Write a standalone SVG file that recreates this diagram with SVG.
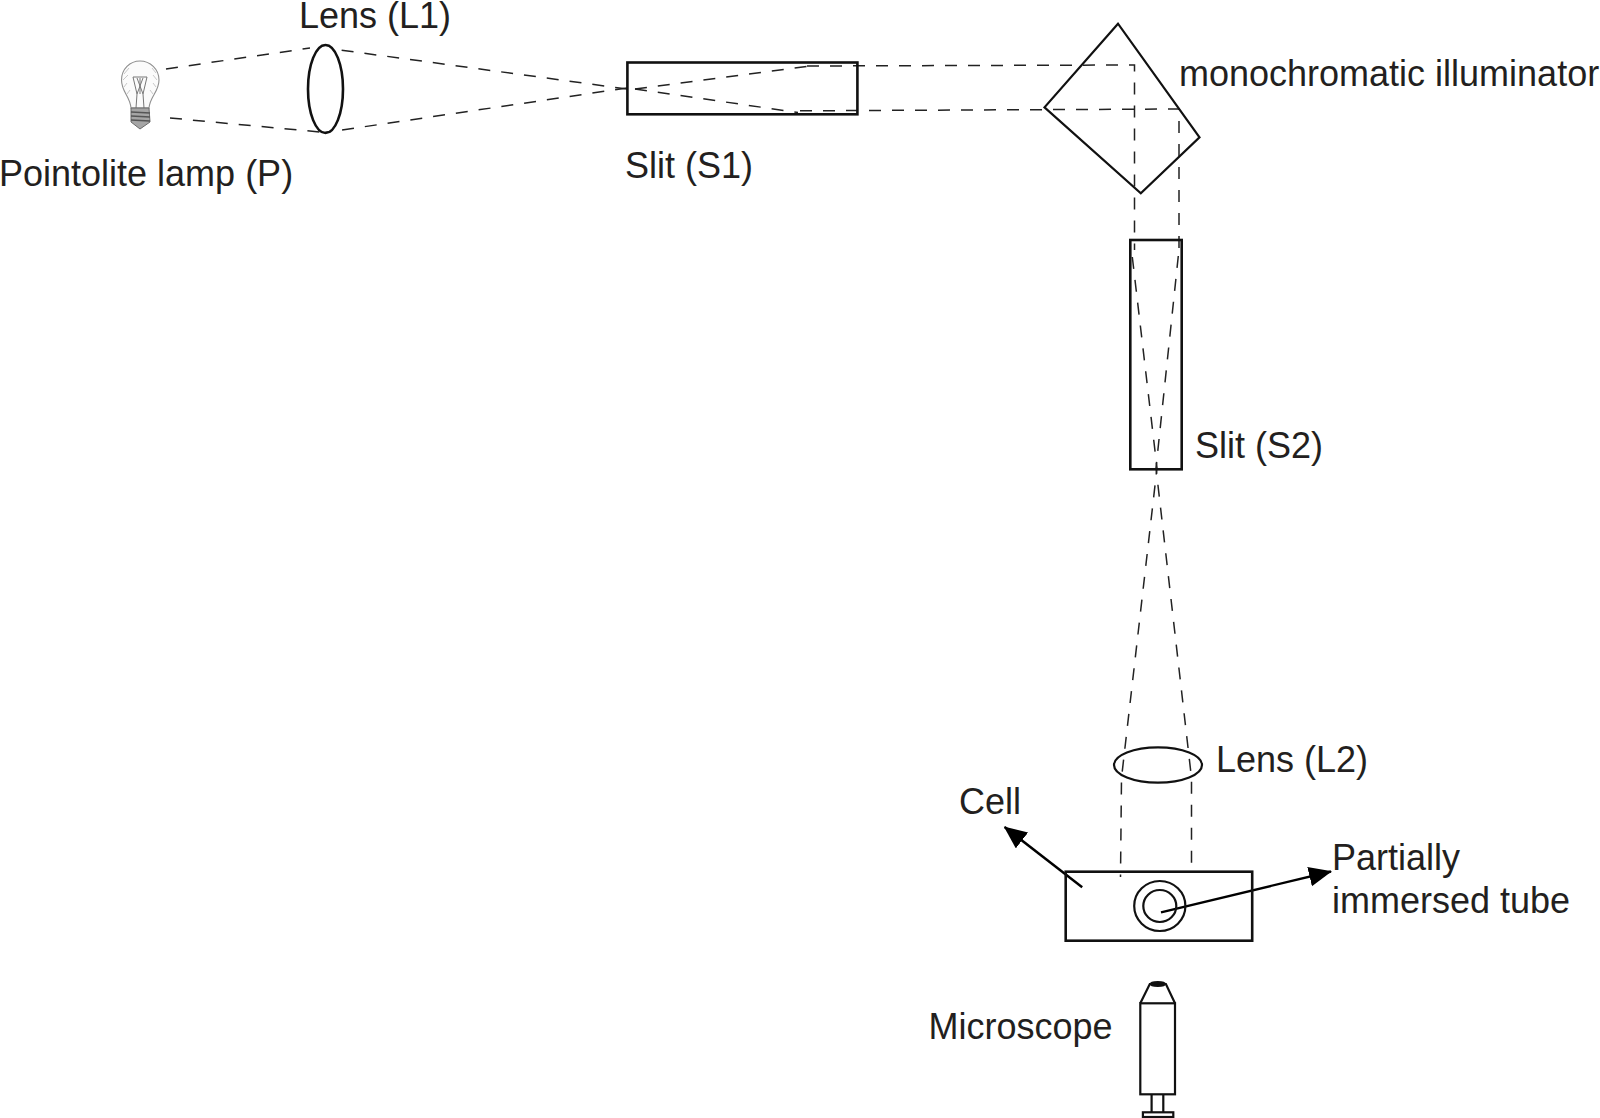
<svg xmlns="http://www.w3.org/2000/svg" width="1600" height="1118" viewBox="0 0 1600 1118">
<style>
text{font-family:"Liberation Sans",Arial,sans-serif;font-size:36px;fill:#231f20}
.s{fill:none;stroke:#111;stroke-width:2.6}
.t{fill:none;stroke:#111;stroke-width:2.2}
.d{fill:none;stroke:#222;stroke-width:1.5;stroke-dasharray:12 11}
.a{fill:none;stroke:#000;stroke-width:2.4;marker-end:url(#ah)}
.b{fill:none;stroke:#777;stroke-width:1}
.h{fill:none;stroke:#bbb;stroke-width:.8}
</style>
<defs><marker id="ah" markerUnits="userSpaceOnUse" markerWidth="24" markerHeight="22" refX="22" refY="10" orient="auto"><path d="M0 0L23 10L0 20Z" fill="#000"/></marker></defs>
<rect width="1600" height="1118" fill="#fff"/>
<g id="connectors">
<path class="d" d="M166 69L310 48M627 89L333 49"/>
<path class="d" d="M170 118L325 132.500M627 88L325 132.500"/>
<path class="d" d="M635 89L817 65"/>
<path class="d" d="M635 89L798 112.500"/>
<path class="d" d="M807 66L1134.500 65L1134.500 250"/>
<path class="d" d="M800 110.800L1179 109L1179 252"/>
<path class="d" d="M1132.300 257L1157 468L1121.500 778L1120.500 877"/>
<path class="d" d="M1178.300 256L1156 468L1191.500 778L1191.500 871"/>
<line class="a" x1="1082.200" y1="887.300" x2="1004.600" y2="827"/>
<line class="a" x1="1161" y1="912.300" x2="1331" y2="871.500"/>
</g>
<g id="lamp">
<path d="M131 108C130 96 121.500 92 121.500 80C121.500 69 130 61 140 61C150 61 159 69 159 80C159 92 150 96 149 108Z" fill="#fbfbfb" stroke="#8f8f8f" stroke-width="1.100"/>
<path class="h" d="M124 74L129 68M123 80L128 75M124 87L127 83M156 73L152 68M157 80L153 75M156 87L153 83M127 94L130 90M153 94L150 90"/>
<path class="b" d="M133 77L147 77L143 94L144 108M133 77L137 94L136 108M137 78L143 94M143 78L137 94M140 78L140 94"/>
<path d="M131 108L149 108L150 122L140 129L131 122Z" fill="#a5a5a5" stroke="#6a6a6a"/>
<path d="M131 112L150 113M131 116L150 117M131 120L150 121" stroke="#555" stroke-width="1.300" fill="none"/>
<text x="-1" y="186">Pointolite lamp (P)</text>
</g>
<g id="lens-l1"><ellipse class="s" cx="325.500" cy="89" rx="17.500" ry="44"/><text x="299" y="28">Lens (L1)</text></g>
<g id="slit-s1"><rect class="s" x="627.400" y="62.500" width="230" height="51.800"/><text x="625" y="178">Slit (S1)</text></g>
<g id="illuminator"><path class="t" d="M1118 23.700L1044.500 107.300L1140.800 193.300L1199.500 137.300Z"/><text x="1179" y="86">monochromatic illuminator</text></g>
<g id="slit-s2"><rect class="s" x="1130.300" y="240" width="51.400" height="229.300"/><text x="1195" y="458">Slit (S2)</text></g>
<g id="lens-l2"><ellipse class="t" cx="1158" cy="765" rx="44" ry="17.700"/><text x="1216" y="772">Lens (L2)</text></g>
<g id="cell"><rect class="s" x="1065.700" y="871.700" width="186.500" height="69"/><text x="959" y="814">Cell</text></g>
<g id="tube"><ellipse class="t" cx="1159.800" cy="906" rx="25.600" ry="25"/><ellipse class="t" cx="1159.800" cy="906" rx="16.500" ry="16"/><text x="1332" y="870">Partially</text><text x="1332" y="913">immersed tube</text></g>
<g id="microscope">
<rect class="t" x="1140.300" y="1003.300" width="34.700" height="91"/>
<path class="t" d="M1140.300 1003.300L1149.800 984L1165.900 984L1175 1003.300"/>
<ellipse class="t" cx="1157.800" cy="984" rx="7" ry="1.800"/>
<path class="t" d="M1151.600 1094.300V1112.300M1163.300 1094.300V1112.300"/>
<rect class="t" x="1142.900" y="1112.300" width="30.400" height="4.700"/>
<text x="928.500" y="1039">Microscope</text>
</g>
</svg>
